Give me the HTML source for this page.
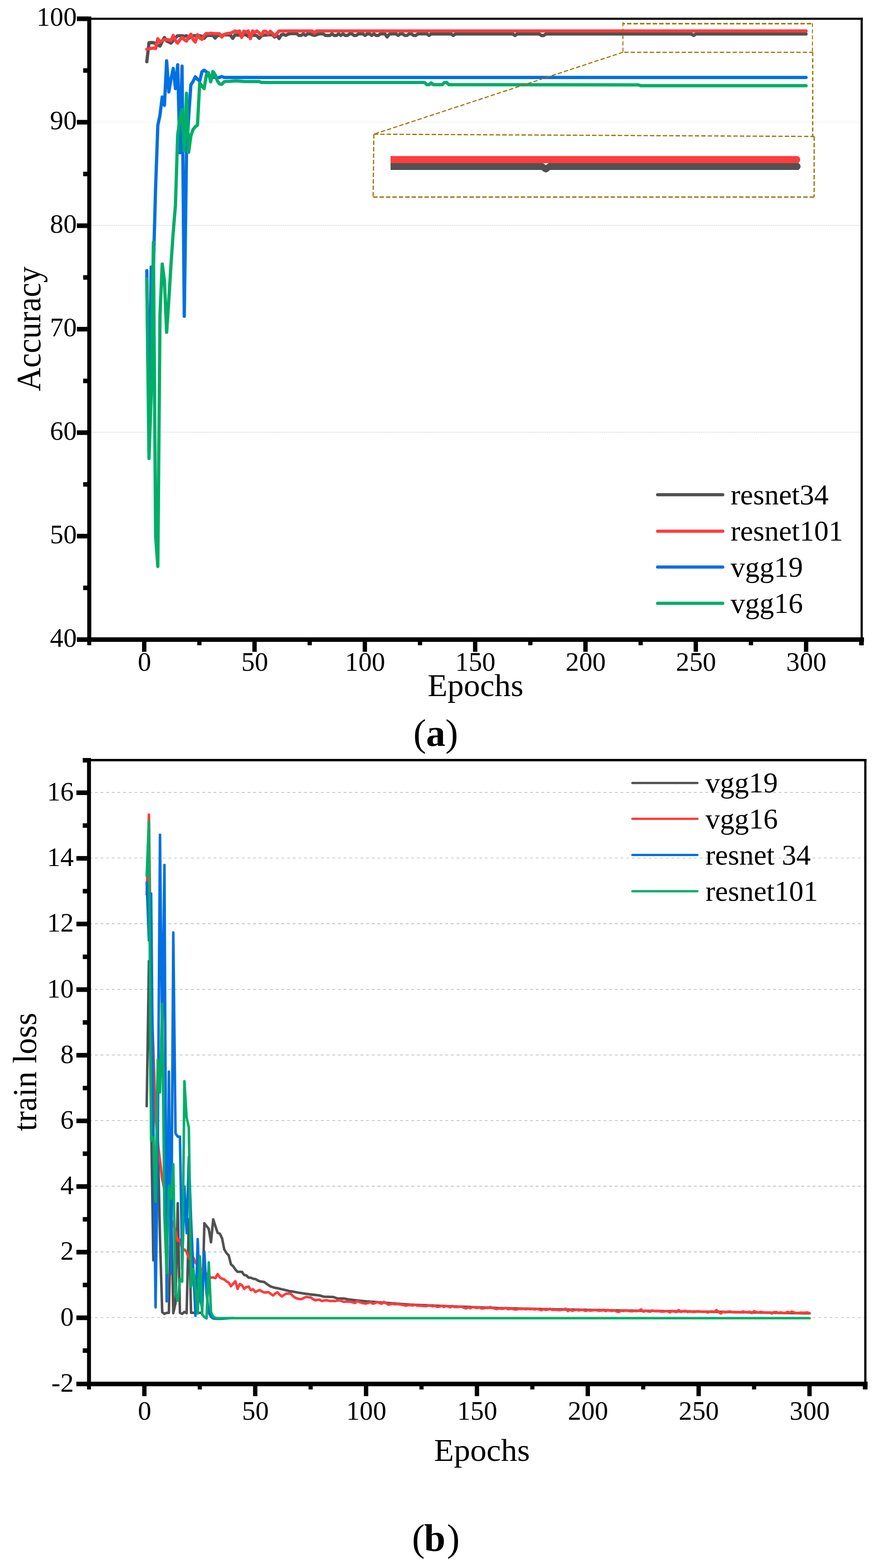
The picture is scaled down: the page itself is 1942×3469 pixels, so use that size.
<!DOCTYPE html>
<html lang="en">
<head>
<meta charset="utf-8">
<title>Accuracy and train loss curves</title>
<style>
html,body{margin:0;padding:0;background:#fff;}
body{width:1942px;height:3469px;overflow:hidden;font-family:"Liberation Serif", "DejaVu Serif", serif;}
svg{display:block;}
text{font-family:"Liberation Serif", "DejaVu Serif", serif;}
</style>
</head>
<body>
<svg width="1942" height="3469" viewBox="0 0 1942 3469" role="img" aria-label="Accuracy and train loss curves">
<rect width="1942" height="3469" fill="#fff"/>
<g id="chart-a">
<rect x="202" y="266.8" width="1702" height="6.4" fill="#fafafa"/>
<line x1="202" x2="1904" y1="498.5" y2="498.5" stroke="#b2b2b2" stroke-width="1.1" stroke-dasharray="2.2 2"/>
<line x1="202" x2="1904" y1="956.3" y2="956.3" stroke="#b2b2b2" stroke-width="1.1" stroke-dasharray="2.2 2"/>
<polyline points="324.7,136.5 329.6,94.6 334.4,94.1 339.3,94.4 344.2,96.4 349.1,99.9 353.9,101.9 358.8,91.9 363.7,82.9 368.6,90.5 373.4,93.0 378.3,95.3 383.2,89.6 388.1,83.8 393.0,79.0 397.8,79.0 402.7,79.0 407.6,80.4 412.5,79.0 417.3,85.0 422.2,81.6 427.1,79.0 432.0,79.0 436.8,79.0 441.7,79.0 446.6,80.4 451.5,84.8 456.4,79.3 461.2,78.1 466.1,78.4 471.0,78.4 475.9,84.3 480.7,78.6 485.6,78.1 490.5,78.1 495.4,77.2 500.2,77.2 505.1,77.2 510.0,78.1 514.9,84.8 519.8,77.2 524.6,77.7 529.5,77.7 534.4,79.3 539.3,77.0 544.1,77.0 549.0,80.4 553.9,80.4 558.8,78.1 563.6,78.1 568.5,79.3 573.4,84.8 578.3,79.3 583.2,77.7 588.0,77.7 592.9,77.0 597.8,77.0 602.7,77.0 607.5,82.0 612.4,78.1 617.3,85.2 622.2,77.0 627.1,75.8 631.9,78.4 636.8,75.8 641.7,74.5 646.6,74.5 651.4,74.5 656.3,74.5 661.2,78.4 666.1,78.4 670.9,74.9 675.8,78.4 680.7,74.9 685.6,74.9 690.5,77.0 695.3,78.4 700.2,77.0 705.1,74.9 710.0,74.9 714.8,74.9 719.7,78.4 724.6,78.4 729.5,78.4 734.3,74.9 739.2,78.4 744.1,78.4 749.0,74.9 753.9,78.4 758.7,74.9 763.6,78.4 768.5,78.4 773.4,74.9 778.2,74.9 783.1,78.4 788.0,78.4 792.9,74.9 797.7,74.9 802.6,74.9 807.5,78.4 812.4,74.9 817.3,74.9 822.1,78.4 827.0,74.9 831.9,78.4 836.8,78.4 841.6,74.9 846.5,74.9 851.4,74.9 856.3,81.8 861.1,75.8 866.0,74.9 870.9,74.9 875.8,74.9 880.7,78.4 885.5,74.9 890.4,74.9 895.3,78.4 900.2,78.4 905.0,74.9 909.9,74.9 914.8,78.4 919.7,78.4 924.5,74.9 929.4,74.9 934.3,74.9 939.2,74.9 944.1,74.9 948.9,78.4 953.8,75.1 997.7,75.1 1002.6,78.6 1007.5,75.1 1134.3,75.1 1139.1,78.6 1144.0,75.1 1192.8,75.1 1197.7,78.6 1202.5,78.6 1207.4,75.1 1529.3,75.1 1534.2,78.6 1539.0,75.1 1782.9,75.1" fill="none" stroke="#515151" stroke-width="7.2" stroke-linecap="round" stroke-linejoin="round" />
<polyline points="324.7,109.3 329.6,107.9 334.4,107.0 339.3,106.5 344.2,107.2 349.1,85.7 353.9,93.0 358.8,89.6 363.7,87.7 368.6,87.7 373.4,88.2 378.3,89.6 383.2,78.6 388.1,89.6 393.0,95.3 397.8,88.2 402.7,82.9 407.6,87.7 412.5,90.9 417.3,81.6 422.2,75.8 427.1,87.3 432.0,93.0 436.8,76.8 441.7,83.8 446.6,87.1 451.5,78.4 456.4,74.0 461.2,74.5 466.1,73.5 471.0,74.0 475.9,74.5 480.7,74.7 485.6,74.7 490.5,82.0 495.4,76.5 500.2,74.9 505.1,74.0 510.0,73.3 514.9,71.3 519.8,68.5 524.6,70.6 529.5,68.5 534.4,82.7 539.3,69.0 544.1,70.6 549.0,68.5 553.9,85.4 558.8,68.5 563.6,71.7 568.5,68.5 573.4,73.1 578.3,77.7 583.2,69.0 588.0,69.0 592.9,74.9 597.8,69.0 602.7,74.0 607.5,79.3 612.4,73.8 617.3,68.5 690.5,68.5 695.3,72.9 700.2,68.5 1782.9,68.5" fill="none" stroke="#fe3c3c" stroke-width="7.2" stroke-linecap="round" stroke-linejoin="round" />
<polyline points="324.7,598.9 329.6,957.1 334.4,590.9 339.3,590.9 344.2,414.6 349.1,277.3 353.9,254.4 358.8,214.5 363.7,233.1 368.6,134.7 373.4,203.3 378.3,174.3 383.2,151.4 388.1,196.0 393.0,143.4 397.8,337.9 402.7,146.3 407.6,699.6 412.5,339.1 417.3,259.0 422.2,187.5 427.1,180.0 432.0,169.7 436.8,175.4 441.7,180.0 446.6,158.7 451.5,155.3 456.4,158.7 461.2,167.9 466.1,170.8 471.0,171.3 475.9,171.3 480.7,171.3 485.6,171.3 490.5,169.2 495.4,171.3 1782.9,171.3" fill="none" stroke="#0070e2" stroke-width="7.2" stroke-linecap="round" stroke-linejoin="round" />
<polyline points="324.7,617.2 329.6,1014.3 334.4,872.4 339.3,535.9 344.2,1186.0 349.1,1253.1 353.9,696.2 358.8,584.0 363.7,620.6 368.6,735.1 373.4,664.1 378.3,584.0 383.2,513.0 388.1,453.5 393.0,297.9 397.8,263.5 402.7,241.8 407.6,333.8 412.5,206.3 417.3,336.8 422.2,300.2 427.1,286.4 432.0,280.5 436.8,276.6 441.7,183.4 446.6,190.3 451.5,196.0 456.4,166.3 461.2,161.0 466.1,181.1 471.0,158.2 475.9,165.1 480.7,178.8 485.6,185.7 490.5,186.6 495.4,181.1 500.2,180.0 505.1,180.0 510.0,179.8 514.9,179.3 519.8,179.1 524.6,179.1 529.5,179.3 534.4,179.8 539.3,180.2 544.1,180.4 549.0,180.4 553.9,180.4 558.8,180.4 563.6,180.4 568.5,180.4 573.4,180.4 578.3,182.5 939.2,182.5 944.1,187.4 948.9,187.4 953.8,183.4 958.7,187.4 978.2,187.4 983.1,182.5 987.9,182.5 992.8,187.4 1412.2,187.8 1417.1,189.6 1782.9,189.6" fill="none" stroke="#00ae68" stroke-width="7.2" stroke-linecap="round" stroke-linejoin="round" />
<g fill="none" stroke="#9a7200" stroke-width="2.6" stroke-dasharray="9.6 4.6">
<path d="M1377.8 52.4 H1797.3" stroke-width="3.3" stroke-dashoffset="4.95"/>
<path d="M1377.8 49.2 V115.7" stroke-width="2.2" stroke-dasharray="9 5.1"/>
<path d="M1377.8 115.7 H1797.3" stroke-width="2.4" stroke-dasharray="9.4 4.7" stroke-dashoffset="11.1"/>
<path d="M1797 51.4 V115.4" stroke-width="2.1" stroke-dasharray="8.6 4.9"/>
<path d="M1797.6 115.4 V301.9" stroke-width="2.8" stroke-dasharray="8.4 5.5"/>
<path d="M1377.8 115.7 L826.9 296.9" stroke-width="2.4"/>
<path d="M826.9 296.9 L1800.8 301.9" stroke-width="2.6"/>
<path d="M1800.8 301.9 V436.1" stroke-width="2.8"/>
<path d="M825.3 436.1 H1800.8" stroke-width="3"/>
<path d="M826.9 296.9 L825.3 436.1" stroke-width="2.6"/>
</g>
<path d="M863.9 368.2 H1200 L1207.2 373.5 L1214 368.2 H1767" fill="none" stroke="#515151" stroke-width="15.6" stroke-linecap="butt" stroke-linejoin="round"/>
<circle cx="1763" cy="368.2" r="7.8" fill="#515151"/>
<path d="M863.9 353.2 H1763" fill="none" stroke="#fe3c3c" stroke-width="15.8" stroke-linecap="butt"/>
<circle cx="1762" cy="353.2" r="7.9" fill="#fe3c3c"/>
<path d="M1201 361.1 L1207.3 365.3 L1213.5 361.1 Z" fill="#fff"/>
<rect x="193.00" y="36.50" width="8.90" height="1391.00" fill="#000"/>
<rect x="201.50" y="39.20" width="1706.80" height="4.60" fill="#000"/>
<rect x="1903.50" y="39.20" width="4.80" height="1380.80" fill="#000"/>
<rect x="170.00" y="1410.00" width="1741.00" height="10.00" fill="#000"/>
<rect x="170.00" y="36.40" width="24.00" height="10.20" fill="#000"/>
<rect x="170.00" y="265.32" width="24.00" height="10.20" fill="#000"/>
<rect x="170.00" y="494.24" width="24.00" height="10.20" fill="#000"/>
<rect x="170.00" y="723.16" width="24.00" height="10.20" fill="#000"/>
<rect x="170.00" y="952.08" width="24.00" height="10.20" fill="#000"/>
<rect x="170.00" y="1181.00" width="24.00" height="10.20" fill="#000"/>
<rect x="170.00" y="1409.92" width="24.00" height="10.20" fill="#000"/>
<rect x="184.00" y="150.96" width="10.00" height="10.00" fill="#000"/>
<rect x="184.00" y="379.88" width="10.00" height="10.00" fill="#000"/>
<rect x="184.00" y="608.80" width="10.00" height="10.00" fill="#000"/>
<rect x="184.00" y="837.72" width="10.00" height="10.00" fill="#000"/>
<rect x="184.00" y="1066.64" width="10.00" height="10.00" fill="#000"/>
<rect x="184.00" y="1295.56" width="10.00" height="10.00" fill="#000"/>
<rect x="314.20" y="1418.00" width="9.60" height="24.00" fill="#000"/>
<rect x="558.20" y="1418.00" width="9.60" height="24.00" fill="#000"/>
<rect x="802.20" y="1418.00" width="9.60" height="24.00" fill="#000"/>
<rect x="1046.20" y="1418.00" width="9.60" height="24.00" fill="#000"/>
<rect x="1290.20" y="1418.00" width="9.60" height="24.00" fill="#000"/>
<rect x="1534.20" y="1418.00" width="9.60" height="24.00" fill="#000"/>
<rect x="1778.20" y="1418.00" width="9.60" height="24.00" fill="#000"/>
<rect x="436.30" y="1418.00" width="9.40" height="9.50" fill="#000"/>
<rect x="680.30" y="1418.00" width="9.40" height="9.50" fill="#000"/>
<rect x="924.30" y="1418.00" width="9.40" height="9.50" fill="#000"/>
<rect x="1168.30" y="1418.00" width="9.40" height="9.50" fill="#000"/>
<rect x="1412.30" y="1418.00" width="9.40" height="9.50" fill="#000"/>
<rect x="1656.30" y="1418.00" width="9.40" height="9.50" fill="#000"/>
<rect x="1900.30" y="1418.00" width="9.40" height="9.50" fill="#000"/>
<rect x="1901.20" y="1418.00" width="9.40" height="9.50" fill="#000"/>
<g font-family='"Liberation Serif", "DejaVu Serif", serif' fill="#000">
<text x="169.90" y="57.00" font-size="59.3" text-anchor="end" >100</text>
<text x="169.90" y="285.92" font-size="59.3" text-anchor="end" >90</text>
<text x="169.90" y="514.84" font-size="59.3" text-anchor="end" >80</text>
<text x="169.90" y="743.76" font-size="59.3" text-anchor="end" >70</text>
<text x="169.90" y="972.68" font-size="59.3" text-anchor="end" >60</text>
<text x="169.90" y="1201.60" font-size="59.3" text-anchor="end" >50</text>
<text x="169.90" y="1430.52" font-size="59.3" text-anchor="end" >40</text>
<text x="319.50" y="1483.80" font-size="59.3" text-anchor="middle" >0</text>
<text x="563.50" y="1483.80" font-size="59.3" text-anchor="middle" >50</text>
<text x="807.50" y="1483.80" font-size="59.3" text-anchor="middle" >100</text>
<text x="1051.50" y="1483.80" font-size="59.3" text-anchor="middle" >150</text>
<text x="1295.50" y="1483.80" font-size="59.3" text-anchor="middle" >200</text>
<text x="1539.50" y="1483.80" font-size="59.3" text-anchor="middle" >250</text>
<text x="1783.50" y="1483.80" font-size="59.3" text-anchor="middle" >300</text>
<text transform="translate(1051.8 1540.2) scale(1 0.962)" font-size="72" text-anchor="middle">Epochs</text>
<text transform="translate(88.7 727.5) rotate(-90) scale(1 1.06)" font-size="72" text-anchor="middle">Accuracy</text>
<line x1="1454.5" x2="1598.6" y1="1094.4" y2="1094.4" stroke="#515151" stroke-width="7" stroke-linecap="round"/>
<text x="1616.00" y="1115.60" font-size="64" text-anchor="start" >resnet34</text>
<line x1="1454.5" x2="1598.6" y1="1175.2" y2="1175.2" stroke="#fe3c3c" stroke-width="7" stroke-linecap="round"/>
<text x="1616.00" y="1196.00" font-size="64" text-anchor="start" >resnet101</text>
<line x1="1454.5" x2="1598.6" y1="1254.5" y2="1254.5" stroke="#0070e2" stroke-width="7" stroke-linecap="round"/>
<text x="1616.00" y="1275.80" font-size="64" text-anchor="start" >vgg19</text>
<line x1="1454.5" x2="1598.6" y1="1334.7" y2="1334.7" stroke="#00ae68" stroke-width="7" stroke-linecap="round"/>
<text x="1616.00" y="1355.50" font-size="64" text-anchor="start" >vgg16</text>
<text x="963.7" y="1650.4" font-size="85" text-anchor="middle">(<tspan font-weight="bold">a</tspan>)</text>
</g>
</g>
<g id="chart-b">
<line x1="197.5" x2="1912" y1="2914.8" y2="2914.8" stroke="#b6b6b6" stroke-width="1.3" stroke-dasharray="6.1 6.4"/>
<line x1="197.5" x2="1912" y1="2769.6" y2="2769.6" stroke="#b6b6b6" stroke-width="1.7" stroke-dasharray="6.1 6.4"/>
<line x1="197.5" x2="1912" y1="2624.4" y2="2624.4" stroke="#b6b6b6" stroke-width="1.7" stroke-dasharray="6.1 6.4"/>
<line x1="197.5" x2="1912" y1="2479.2" y2="2479.2" stroke="#b6b6b6" stroke-width="1.4" stroke-dasharray="6.1 6.4"/>
<line x1="197.5" x2="1912" y1="2334.0" y2="2334.0" stroke="#b6b6b6" stroke-width="1.3" stroke-dasharray="6.1 6.4"/>
<line x1="197.5" x2="1912" y1="2188.8" y2="2188.8" stroke="#b6b6b6" stroke-width="1.5" stroke-dasharray="6.1 6.4"/>
<line x1="197.5" x2="1912" y1="2043.6" y2="2043.6" stroke="#b6b6b6" stroke-width="1.7" stroke-dasharray="6.1 6.4"/>
<line x1="197.5" x2="1912" y1="1898.4" y2="1898.4" stroke="#b6b6b6" stroke-width="1.3" stroke-dasharray="6.1 6.4"/>
<line x1="197.5" x2="1912" y1="1753.2" y2="1753.2" stroke="#b6b6b6" stroke-width="1.5" stroke-dasharray="6.1 6.4"/>
<polyline points="324.5,2447.1 329.4,2126.2 334.3,2479.8 339.2,2788.3 344.1,2639.5 349.0,2508.8 353.9,2741.2 358.8,2903.1 363.7,2906.7 368.6,2904.5 373.5,2904.5 378.4,2661.3 383.3,2905.2 388.2,2882.7 393.1,2662.0 398.0,2904.5 403.0,2906.7 407.9,2902.3 412.8,2905.2 417.7,2697.6 422.6,2904.5 427.5,2904.5 432.4,2904.5 437.3,2904.5 442.2,2904.5 447.1,2904.5 452.0,2706.3 456.9,2712.8 461.8,2718.7 466.7,2748.4 471.6,2697.6 476.5,2712.8 481.4,2727.4 486.3,2729.5 491.2,2739.7 496.1,2764.4 501.0,2772.4 505.9,2777.5 510.8,2797.1 515.7,2801.4 520.6,2808.7 525.5,2813.8 530.4,2813.8 535.3,2813.8 540.2,2821.0 545.1,2821.7 550.0,2826.8 554.9,2826.8 559.8,2829.0 564.8,2829.7 569.7,2832.6 574.6,2834.8 579.5,2835.5 584.4,2836.3 589.3,2839.9 594.2,2843.5 599.1,2846.4 604.0,2847.9 608.9,2849.3 613.8,2850.1 618.7,2851.2 623.6,2852.4 628.5,2853.5 633.4,2854.7 638.3,2855.9 643.2,2856.7 648.1,2857.6 653.0,2858.5 657.9,2859.4 662.8,2860.2 667.7,2861.0 672.6,2861.7 677.5,2862.4 682.4,2863.1 687.3,2863.9 692.2,2864.4 697.1,2864.9 702.0,2865.5 706.9,2866.0 711.8,2867.5 716.7,2868.9 721.6,2869.0 726.5,2869.1 731.5,2869.2 736.4,2869.3 741.3,2870.9 746.2,2872.6 751.1,2872.7 756.0,2872.8 760.9,2872.9 765.8,2873.8 770.7,2874.7 775.6,2875.3 780.5,2876.0 785.4,2876.6 790.3,2877.1 795.2,2877.6 800.1,2878.1 805.0,2878.6 809.9,2879.1 814.8,2879.4 819.7,2879.8 824.6,2880.1 829.5,2880.4 834.4,2880.8 839.3,2881.2 844.2,2881.6 849.1,2881.9 854.0,2882.3 858.9,2882.7 863.8,2883.1 868.7,2883.5 873.6,2883.9 878.5,2884.2 883.4,2884.6 888.3,2885.0 893.3,2885.3 898.2,2885.7 903.1,2886.0 908.0,2886.4 912.9,2886.6 917.8,2886.8 922.7,2887.0 927.6,2887.2 932.5,2887.4 937.4,2887.6 942.3,2887.8 947.2,2888.0 952.1,2888.2 957.0,2888.4 961.9,2888.6 966.8,2888.8 971.7,2889.0 976.6,2889.2 981.5,2889.4 986.4,2889.6 991.3,2889.8 996.2,2890.0 1001.1,2890.1 1006.0,2890.4 1010.9,2890.5 1015.8,2890.7 1020.7,2890.9 1025.6,2891.1 1030.5,2891.3 1035.4,2891.4 1040.3,2891.6 1045.2,2891.8 1050.1,2892.0 1055.0,2892.2 1060.0,2892.3 1064.9,2892.5 1069.8,2892.7 1074.7,2892.9 1079.6,2893.1 1084.5,2893.3 1089.4,2893.4 1094.3,2893.6 1099.2,2893.8 1104.1,2894.0 1109.0,2894.1 1113.9,2894.2 1118.8,2894.3 1123.7,2894.4 1128.6,2894.5 1133.5,2894.6 1138.4,2894.7 1143.3,2894.9 1148.2,2895.0 1153.1,2895.1 1158.0,2895.2 1162.9,2895.3 1167.8,2895.4 1172.7,2895.5 1177.6,2895.6 1182.5,2895.7 1187.4,2895.8 1192.3,2895.9 1197.2,2896.1 1202.1,2896.2 1207.0,2896.2 1211.9,2896.3 1216.8,2896.4 1221.8,2896.5 1226.7,2896.6 1231.6,2896.7 1236.5,2896.8 1241.4,2896.9 1246.3,2897.0 1251.2,2897.1 1256.1,2897.2 1261.0,2897.2 1265.9,2897.3 1270.8,2897.4 1275.7,2897.5 1280.6,2897.6 1285.5,2897.7 1290.4,2897.8 1295.3,2897.9 1300.2,2898.0 1305.1,2898.1 1310.0,2898.2 1314.9,2898.3 1319.8,2898.3 1324.7,2898.4 1329.6,2898.5 1334.5,2898.6 1339.4,2898.7 1344.3,2898.8 1349.2,2898.9 1354.1,2899.0 1359.0,2899.1 1363.9,2899.1 1368.8,2899.2 1373.7,2899.3 1378.6,2899.3 1383.6,2899.4 1388.5,2899.5 1393.4,2899.6 1398.3,2899.6 1403.2,2899.7 1408.1,2899.8 1413.0,2899.8 1417.9,2899.9 1422.8,2900.0 1427.7,2900.0 1432.6,2900.1 1437.5,2900.2 1442.4,2900.2 1447.3,2900.3 1452.2,2900.4 1457.1,2900.4 1462.0,2900.5 1466.9,2900.6 1471.8,2900.7 1476.7,2900.7 1481.6,2900.8 1486.5,2900.9 1491.4,2900.9 1496.3,2901.0 1501.2,2901.1 1506.1,2901.1 1511.0,2901.2 1515.9,2901.3 1520.8,2901.3 1525.7,2901.4 1530.6,2901.5 1535.5,2901.6 1540.4,2901.6 1545.3,2901.7 1550.3,2901.8 1555.2,2901.8 1560.1,2901.9 1565.0,2902.0 1569.9,2902.0 1574.8,2902.1 1579.7,2902.2 1584.6,2902.3 1589.5,2902.4 1594.4,2902.4 1599.3,2902.5 1604.2,2902.6 1609.1,2902.7 1614.0,2902.8 1618.9,2902.8 1623.8,2902.9 1628.7,2903.0 1633.6,2903.1 1638.5,2903.2 1643.4,2903.2 1648.3,2903.3 1653.2,2903.4 1658.1,2903.5 1663.0,2903.5 1667.9,2903.6 1672.8,2903.7 1677.7,2903.8 1682.6,2903.9 1687.5,2903.9 1692.4,2904.0 1697.3,2904.1 1702.2,2904.2 1707.1,2904.3 1712.1,2904.3 1717.0,2904.4 1721.9,2904.5 1726.8,2904.6 1731.7,2904.7 1736.6,2904.7 1741.5,2904.8 1746.4,2904.9 1751.3,2905.0 1756.2,2905.0 1761.1,2905.1 1766.0,2905.2 1770.9,2905.3 1775.8,2905.4 1780.7,2905.4 1785.6,2905.5 1790.5,2905.6" fill="none" stroke="#515151" stroke-width="5.6" stroke-linecap="round" stroke-linejoin="round" />
<polyline points="324.5,1978.9 329.4,1802.4 334.3,2189.4 339.2,2320.1 344.1,2472.5 349.0,2527.0 353.9,2566.9 358.8,2609.0 363.7,2632.3 368.6,2654.0 373.5,2675.8 378.4,2697.6 383.3,2708.5 388.2,2724.5 393.1,2745.5 398.0,2742.6 403.0,2763.7 407.9,2764.4 412.8,2770.2 417.7,2784.0 422.6,2784.7 427.5,2781.8 432.4,2793.4 437.3,2799.2 442.2,2805.0 447.1,2809.4 452.0,2813.8 456.9,2818.1 461.8,2822.5 466.7,2826.8 471.6,2826.1 476.5,2827.6 481.4,2818.8 486.3,2826.1 491.2,2829.0 496.1,2830.5 501.0,2834.8 505.9,2837.7 510.8,2845.7 515.7,2839.9 520.6,2834.8 525.5,2851.5 530.4,2840.6 535.3,2843.5 540.2,2851.5 545.1,2847.2 550.0,2846.4 554.9,2854.4 559.8,2852.2 564.8,2858.4 569.7,2855.9 574.6,2854.1 579.5,2857.3 584.4,2859.5 589.3,2859.1 594.2,2858.8 599.1,2862.4 604.0,2866.0 608.9,2861.7 613.8,2858.8 618.7,2864.6 623.6,2868.2 628.5,2864.6 633.4,2862.0 638.3,2861.7 643.2,2862.0 648.1,2867.5 653.0,2871.1 657.9,2872.9 662.8,2874.0 667.7,2874.0 672.6,2871.1 677.5,2869.3 682.4,2870.0 687.3,2870.4 692.2,2874.0 697.1,2876.6 702.0,2875.8 706.9,2875.5 711.8,2878.4 716.7,2877.3 721.6,2876.6 726.5,2877.6 731.5,2878.4 736.4,2878.0 741.3,2878.4 746.2,2877.6 751.1,2876.6 756.0,2878.7 760.9,2880.3 765.8,2879.8 770.7,2879.8 775.6,2880.0 780.5,2881.3 785.4,2882.7 790.3,2878.4 795.2,2880.6 800.1,2882.4 805.0,2883.5 809.9,2883.9 814.8,2882.4 819.7,2880.9 824.6,2884.2 829.5,2882.7 834.4,2880.8 839.3,2882.7 844.2,2884.2 849.1,2880.3 854.0,2882.7 858.9,2886.4 863.8,2885.3 868.7,2884.5 873.6,2885.6 878.5,2884.9 883.4,2885.6 888.3,2886.4 893.3,2887.4 898.2,2888.8 903.1,2887.1 908.0,2887.6 912.9,2888.3 917.8,2886.7 922.7,2888.5 927.6,2888.8 932.5,2888.9 937.4,2889.5 942.3,2889.7 947.2,2888.2 952.1,2888.9 957.0,2890.1 961.9,2888.8 966.8,2891.4 971.7,2890.8 976.6,2889.2 981.5,2891.3 986.4,2889.6 991.3,2890.4 996.2,2892.2 1001.1,2889.1 1006.0,2891.7 1010.9,2891.8 1015.8,2891.2 1020.7,2890.9 1025.6,2892.9 1030.5,2894.7 1035.4,2892.4 1040.3,2894.2 1045.2,2891.5 1050.1,2892.5 1055.0,2893.7 1060.0,2892.2 1064.9,2894.8 1069.8,2894.4 1074.7,2893.3 1079.6,2894.1 1084.5,2891.5 1089.4,2893.7 1094.3,2894.9 1099.2,2895.9 1104.1,2894.5 1109.0,2895.5 1113.9,2895.1 1118.8,2893.5 1123.7,2896.4 1128.6,2895.4 1133.5,2895.5 1138.4,2897.2 1143.3,2897.0 1148.2,2895.4 1153.1,2896.0 1158.0,2895.6 1162.9,2896.6 1167.8,2895.2 1172.7,2896.5 1177.6,2895.8 1182.5,2897.1 1187.4,2895.6 1192.3,2896.8 1197.2,2898.6 1202.1,2896.3 1207.0,2898.0 1211.9,2897.3 1216.8,2895.7 1221.8,2898.0 1226.7,2897.6 1231.6,2897.8 1236.5,2898.6 1241.4,2897.9 1246.3,2896.9 1251.2,2895.5 1256.1,2900.5 1261.0,2897.4 1265.9,2899.8 1270.8,2898.6 1275.7,2897.3 1280.6,2899.3 1285.5,2897.2 1290.4,2898.5 1295.3,2900.1 1300.2,2898.5 1305.1,2899.5 1310.0,2899.1 1314.9,2898.2 1319.8,2898.6 1324.7,2899.9 1329.6,2899.4 1334.5,2897.5 1339.4,2900.7 1344.3,2898.0 1349.2,2899.5 1354.1,2900.1 1359.0,2898.7 1363.9,2901.5 1368.8,2902.4 1373.7,2899.3 1378.6,2900.4 1383.6,2899.2 1388.5,2899.7 1393.4,2900.8 1398.3,2900.9 1403.2,2900.0 1408.1,2900.8 1413.0,2900.0 1417.9,2896.8 1422.8,2901.7 1427.7,2900.3 1432.6,2900.8 1437.5,2902.1 1442.4,2899.3 1447.3,2900.6 1452.2,2900.8 1457.1,2900.2 1462.0,2901.8 1466.9,2901.7 1471.8,2900.8 1476.7,2900.6 1481.6,2903.4 1486.5,2900.1 1491.4,2901.5 1496.3,2902.7 1501.2,2898.3 1506.1,2902.4 1511.0,2901.1 1515.9,2899.9 1520.8,2902.5 1525.7,2901.4 1530.6,2902.0 1535.5,2902.7 1540.4,2901.3 1545.3,2901.1 1550.3,2901.7 1555.2,2901.9 1560.1,2901.7 1565.0,2903.6 1569.9,2902.0 1574.8,2901.3 1579.7,2903.0 1584.6,2898.5 1589.5,2902.6 1594.4,2905.8 1599.3,2901.8 1604.2,2903.3 1609.1,2902.3 1614.0,2901.5 1618.9,2902.6 1623.8,2903.1 1628.7,2902.9 1633.6,2903.3 1638.5,2903.6 1643.4,2901.4 1648.3,2903.0 1653.2,2903.2 1658.1,2902.1 1663.0,2905.0 1667.9,2900.9 1672.8,2902.6 1677.7,2903.8 1682.6,2902.1 1687.5,2903.3 1692.4,2904.3 1697.3,2903.9 1702.2,2903.6 1707.1,2906.1 1712.1,2903.0 1717.0,2902.7 1721.9,2905.0 1726.8,2903.5 1731.7,2904.4 1736.6,2905.2 1741.5,2902.4 1746.4,2904.2 1751.3,2901.9 1756.2,2903.5 1761.1,2905.5 1766.0,2904.7 1770.9,2904.1 1775.8,2904.2 1780.7,2904.2 1785.6,2903.6 1790.5,2905.2" fill="none" stroke="#fe3c3c" stroke-width="5.6" stroke-linecap="round" stroke-linejoin="round" />
<polyline points="324.5,1952.7 329.4,2080.5 334.3,1976.7 339.2,2479.8 344.1,2892.2 349.0,2530.6 353.9,1846.7 358.8,2320.1 363.7,1913.5 368.6,2879.1 373.5,2370.9 378.4,2817.4 383.3,2063.1 388.2,2507.4 393.1,2514.6 398.0,2514.6 403.0,2806.5 407.9,2625.0 412.8,2728.1 417.7,2559.7 422.6,2697.6 427.5,2807.2 432.4,2911.0 437.3,2741.2 442.2,2871.8 447.1,2893.6 452.0,2768.7 456.9,2861.0 461.8,2904.5 466.7,2913.2 471.6,2916.9 476.5,2917.6 481.4,2917.6 486.3,2917.6 491.2,2917.6 496.1,2917.2 501.0,2916.9 505.9,2916.5 510.8,2916.3 515.7,2916.3" fill="none" stroke="#0070e2" stroke-width="5.6" stroke-linecap="round" stroke-linejoin="round" />
<polyline points="513.3,2916.3 1790.5,2916.3" fill="none" stroke="#0070e2" stroke-width="3.9999999999999996" stroke-linecap="round" stroke-linejoin="round" />
<polyline points="324.5,1937.5 329.4,1817.7 334.3,2523.4 339.2,2516.1 344.1,2658.4 349.0,2344.0 353.9,2416.6 358.8,2220.6 363.7,2690.3 368.6,2816.7 373.5,2624.3 378.4,2651.9 383.3,2575.6 388.2,2861.0 393.1,2877.6 398.0,2829.7 403.0,2835.5 407.9,2392.0 412.8,2472.5 417.7,2494.3 422.6,2847.2 427.5,2808.0 432.4,2848.6 437.3,2906.0 442.2,2779.6 447.1,2908.1 452.0,2913.2 456.9,2916.9 461.8,2792.7 466.7,2903.1 471.6,2913.2 476.5,2915.8 481.4,2916.3 1790.5,2916.3" fill="none" stroke="#00ae68" stroke-width="5.6" stroke-linecap="round" stroke-linejoin="round" />
<rect x="192.50" y="1677.00" width="8.70" height="1397.00" fill="#000"/>
<rect x="201.00" y="1679.00" width="1715.50" height="5.30" fill="#000"/>
<rect x="1911.50" y="1679.00" width="5.00" height="1388.00" fill="#000"/>
<rect x="169.00" y="3056.80" width="1750.00" height="10.10" fill="#000"/>
<rect x="169.00" y="2910.30" width="25.00" height="10.20" fill="#000"/>
<rect x="169.00" y="2765.10" width="25.00" height="10.20" fill="#000"/>
<rect x="169.00" y="2619.90" width="25.00" height="10.20" fill="#000"/>
<rect x="169.00" y="2474.70" width="25.00" height="10.20" fill="#000"/>
<rect x="169.00" y="2329.50" width="25.00" height="10.20" fill="#000"/>
<rect x="169.00" y="2184.30" width="25.00" height="10.20" fill="#000"/>
<rect x="169.00" y="2039.10" width="25.00" height="10.20" fill="#000"/>
<rect x="169.00" y="1893.90" width="25.00" height="10.20" fill="#000"/>
<rect x="169.00" y="1748.70" width="25.00" height="10.20" fill="#000"/>
<rect x="183.00" y="2983.00" width="11.00" height="10.00" fill="#000"/>
<rect x="183.00" y="2837.80" width="11.00" height="10.00" fill="#000"/>
<rect x="183.00" y="2692.60" width="11.00" height="10.00" fill="#000"/>
<rect x="183.00" y="2547.40" width="11.00" height="10.00" fill="#000"/>
<rect x="183.00" y="2402.20" width="11.00" height="10.00" fill="#000"/>
<rect x="183.00" y="2257.00" width="11.00" height="10.00" fill="#000"/>
<rect x="183.00" y="2111.80" width="11.00" height="10.00" fill="#000"/>
<rect x="183.00" y="1966.60" width="11.00" height="10.00" fill="#000"/>
<rect x="183.00" y="1821.40" width="11.00" height="10.00" fill="#000"/>
<rect x="183.00" y="1677.00" width="11.00" height="10.00" fill="#000"/>
<rect x="314.50" y="3065.00" width="9.60" height="23.80" fill="#000"/>
<rect x="559.70" y="3065.00" width="9.60" height="23.80" fill="#000"/>
<rect x="804.90" y="3065.00" width="9.60" height="23.80" fill="#000"/>
<rect x="1050.10" y="3065.00" width="9.60" height="23.80" fill="#000"/>
<rect x="1295.30" y="3065.00" width="9.60" height="23.80" fill="#000"/>
<rect x="1540.50" y="3065.00" width="9.60" height="23.80" fill="#000"/>
<rect x="1785.70" y="3065.00" width="9.60" height="23.80" fill="#000"/>
<rect x="437.30" y="3065.00" width="9.20" height="9.00" fill="#000"/>
<rect x="682.50" y="3065.00" width="9.20" height="9.00" fill="#000"/>
<rect x="927.70" y="3065.00" width="9.20" height="9.00" fill="#000"/>
<rect x="1172.90" y="3065.00" width="9.20" height="9.00" fill="#000"/>
<rect x="1418.10" y="3065.00" width="9.20" height="9.00" fill="#000"/>
<rect x="1663.30" y="3065.00" width="9.20" height="9.00" fill="#000"/>
<rect x="1908.50" y="3065.00" width="9.20" height="9.00" fill="#000"/>
<rect x="1909.50" y="3065.00" width="9.30" height="9.00" fill="#000"/>
<g font-family='"Liberation Serif", "DejaVu Serif", serif' fill="#000">
<text x="163.20" y="3078.60" font-size="59.3" text-anchor="end" >-2</text>
<text x="163.20" y="2932.60" font-size="59.3" text-anchor="end" >0</text>
<text x="163.20" y="2787.40" font-size="59.3" text-anchor="end" >2</text>
<text x="163.20" y="2642.20" font-size="59.3" text-anchor="end" >4</text>
<text x="163.20" y="2497.00" font-size="59.3" text-anchor="end" >6</text>
<text x="163.20" y="2351.80" font-size="59.3" text-anchor="end" >8</text>
<text x="163.20" y="2206.60" font-size="59.3" text-anchor="end" >10</text>
<text x="163.20" y="2061.40" font-size="59.3" text-anchor="end" >12</text>
<text x="163.20" y="1916.20" font-size="59.3" text-anchor="end" >14</text>
<text x="163.20" y="1771.00" font-size="59.3" text-anchor="end" >16</text>
<text x="319.80" y="3140.80" font-size="59.3" text-anchor="middle" >0</text>
<text x="565.00" y="3140.80" font-size="59.3" text-anchor="middle" >50</text>
<text x="810.20" y="3140.80" font-size="59.3" text-anchor="middle" >100</text>
<text x="1055.40" y="3140.80" font-size="59.3" text-anchor="middle" >150</text>
<text x="1300.60" y="3140.80" font-size="59.3" text-anchor="middle" >200</text>
<text x="1545.80" y="3140.80" font-size="59.3" text-anchor="middle" >250</text>
<text x="1791.00" y="3140.80" font-size="59.3" text-anchor="middle" >300</text>
<text transform="translate(1066 3231.7) scale(1 0.962)" font-size="72" text-anchor="middle">Epochs</text>
<text transform="translate(79.5 2371.4) rotate(-90) scale(1 1.035)" font-size="72" text-anchor="middle">train loss</text>
<line x1="1398.7" x2="1542.5" y1="1732.3" y2="1732.3" stroke="#515151" stroke-width="5" stroke-linecap="round"/>
<text x="1560.50" y="1752.50" font-size="64" text-anchor="start" >vgg19</text>
<line x1="1398.7" x2="1542.5" y1="1811.6" y2="1811.6" stroke="#fe3c3c" stroke-width="5" stroke-linecap="round"/>
<text x="1560.50" y="1832.90" font-size="64" text-anchor="start" >vgg16</text>
<line x1="1398.7" x2="1542.5" y1="1891.6" y2="1891.6" stroke="#0070e2" stroke-width="5" stroke-linecap="round"/>
<text x="1560.50" y="1912.60" font-size="64" text-anchor="start" >resnet 34</text>
<line x1="1398.7" x2="1542.5" y1="1971.7" y2="1971.7" stroke="#00ae68" stroke-width="5" stroke-linecap="round"/>
<text x="1560.50" y="1992.60" font-size="64" text-anchor="start" >resnet101</text>
<text x="964" y="3431" font-size="85" text-anchor="middle">(<tspan font-weight="bold" dx="-1.5">b</tspan><tspan dx="3">)</tspan></text>
</g>
</g>
</svg>
</body>
</html>
